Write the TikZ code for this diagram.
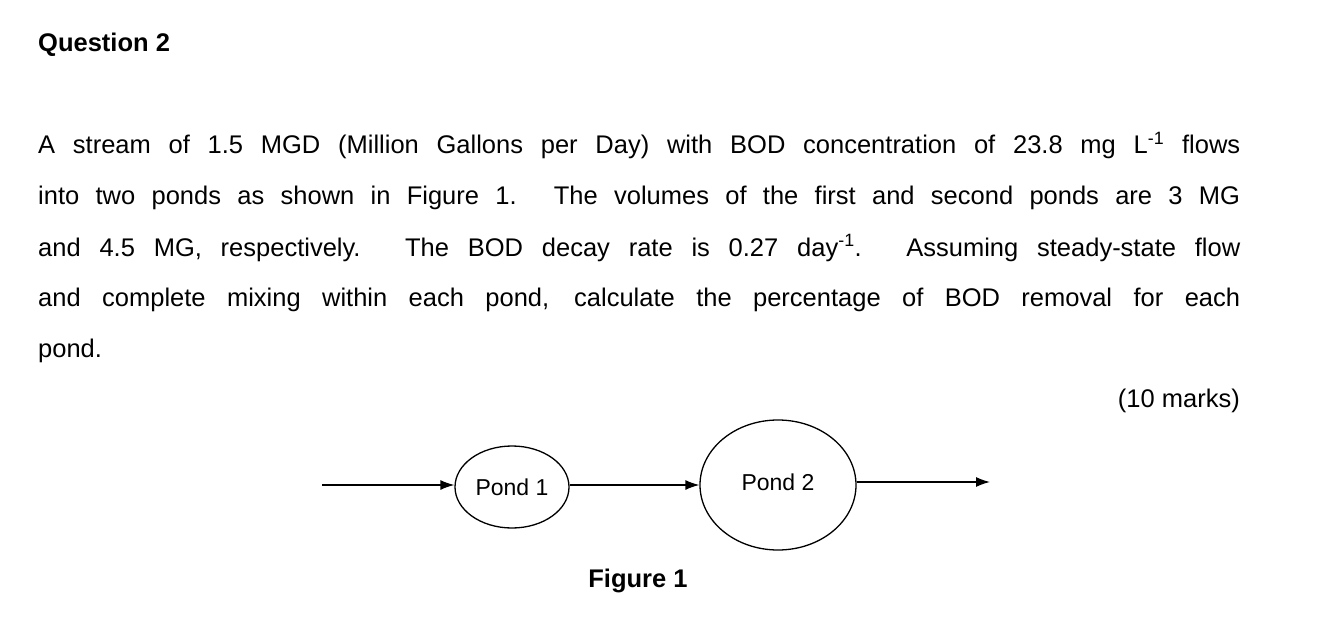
\documentclass[tikz,border=0pt]{standalone}
\usepackage{fontspec}
\setmainfont{Liberation Sans}
\usetikzlibrary{shapes.geometric,arrows.meta}
\begin{document}
\begin{tikzpicture}[x=1pt,y=-1pt,
  txt/.style={anchor=base west,inner sep=0pt,font=\fontsize{25.5}{30}\selectfont},
  pond/.style={draw,ellipse,line width=1.3pt,inner sep=0pt,font=\fontsize{23}{28}\selectfont},
  flow/.style={line width=1.3pt,-{Latex[length=14pt,width=10pt]}}]
\useasboundingbox (0,0) rectangle (1340,628);
\node[txt,font=\bfseries\fontsize{25.5}{30}\selectfont] (q) at (38,52) {Question 2};
\node[txt] (l1) at (38,154) {\makebox[1202pt][s]{A stream of 1.5 MGD (Million Gallons per Day) with BOD concentration of 23.8 mg L\textsuperscript{-1} flows}};
\node[txt] (l2) at (38,205) {\makebox[1202pt][s]{into two ponds as shown in Figure 1. The volumes of the first and second ponds are 3 MG}};
\node[txt] (l3) at (38,256) {\makebox[1202pt][s]{and 4.5 MG, respectively. The BOD decay rate is 0.27 day\textsuperscript{-1}. Assuming steady-state flow}};
\node[txt] (l4) at (38,306) {\makebox[1202pt][s]{and complete mixing within each pond, calculate the percentage of BOD removal for each}};
\node[txt] (l5) at (38,357) {pond.};
\node[txt,anchor=base east] (m) at (1240,407) {(10 marks)};
\node[pond,minimum width=114pt,minimum height=82pt] (p1) at (512,487) {Pond 1};
\node[pond,minimum width=156pt,minimum height=130pt] (p2) at (778,485) {\raisebox{6pt}{Pond 2}};
\coordinate (in) at (322,485);
\coordinate (out) at (990,482);
\draw[flow] (in) -- (p1.west |- in);
\draw[flow] (p1.east |- 0,485) -- (p2.west |- 0,485);
\draw[flow] (p2.east |- out) -- (out);
\node[txt,anchor=base,font=\bfseries\fontsize{25.5}{30}\selectfont] (f) at (638,587) {Figure 1};
\end{tikzpicture}
\end{document}
